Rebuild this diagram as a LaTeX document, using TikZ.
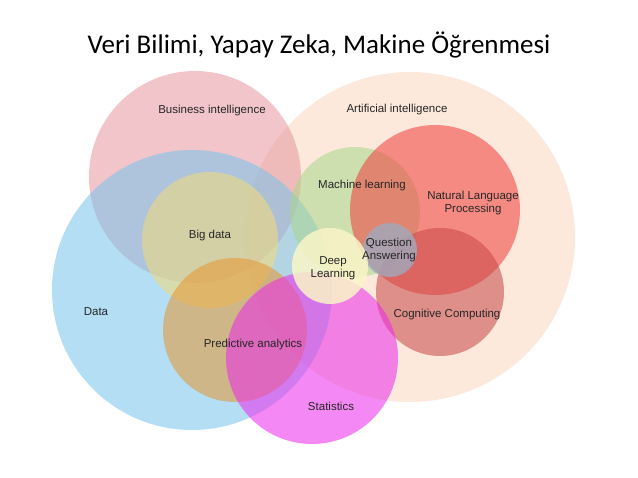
\documentclass[tikz,border=0pt]{standalone}
\usepackage{fontspec}
\setmainfont{Liberation Sans}
\newfontfamily\titlefont{Carlito}
\begin{document}
\begin{tikzpicture}[x=1pt,y=-1pt,
  lbl/.style={font=\fontsize{11.5}{12.5}\selectfont, align=center, text=black!85, inner sep=1pt},
  circ/.style={fill opacity=0.55, draw=none}]
\useasboundingbox (0,0) rectangle (638,478);
\fill[white] (0,0) rectangle (638,478);
\fill[circ,fill={rgb,255:red,250;green,215;blue,190}] (410,237) circle (165);
\fill[circ,fill={rgb,255:red,230;green,150;blue,160}] (195,177) circle (106);
\fill[circ,fill={rgb,255:red,120;green,195;blue,235}] (192,290) circle (140);
\fill[circ,fill={rgb,255:red,245;green,220;blue,120}] (210,240) circle (68);
\fill[circ,fill={rgb,255:red,170;green,215;blue,140}] (355,212) circle (65);
\fill[circ,fill={rgb,255:red,240;green,60;blue,60}] (435,210) circle (85);
\fill[circ,fill={rgb,255:red,200;green,70;blue,70}] (440,292) circle (64);
\fill[circ,fill={rgb,255:red,230;green,150;blue,50}] (235,330) circle (72);
\fill[circ,fill={rgb,255:red,235;green,40;blue,235}] (312,358) circle (86);
\fill[fill={rgb,255:red,160;green,170;blue,190},fill opacity=0.8] (390,250) circle (27);
\fill[fill={rgb,255:red,250;green,245;blue,200},fill opacity=0.85] (330,266) circle (38);
\node (title) at (319,45) {\titlefont\fontsize{27}{30}\selectfont Veri Bilimi, Yapay Zeka, Makine Öğrenmesi};
\node[lbl] (bi) at (212,111) {Business intelligence};
\node[lbl] (ai) at (397,110) {Artificial intelligence};
\node[lbl] (ml) at (362,186) {Machine learning};
\node[lbl] (nlp) at (473,203) {Natural Language\\Processing};
\node[lbl] (bd) at (210,236) {Big data};
\node[lbl] (qa) at (389,250) {Question\\Answering};
\node[lbl] (dl) at (333,268) {Deep\\Learning};
\node[lbl] (data) at (96,312) {Data};
\node[lbl] (cc) at (447,315) {Cognitive Computing};
\node[lbl] (pa) at (253,345) {Predictive analytics};
\node[lbl] (st) at (331,406) {Statistics};
\end{tikzpicture}
\end{document}
